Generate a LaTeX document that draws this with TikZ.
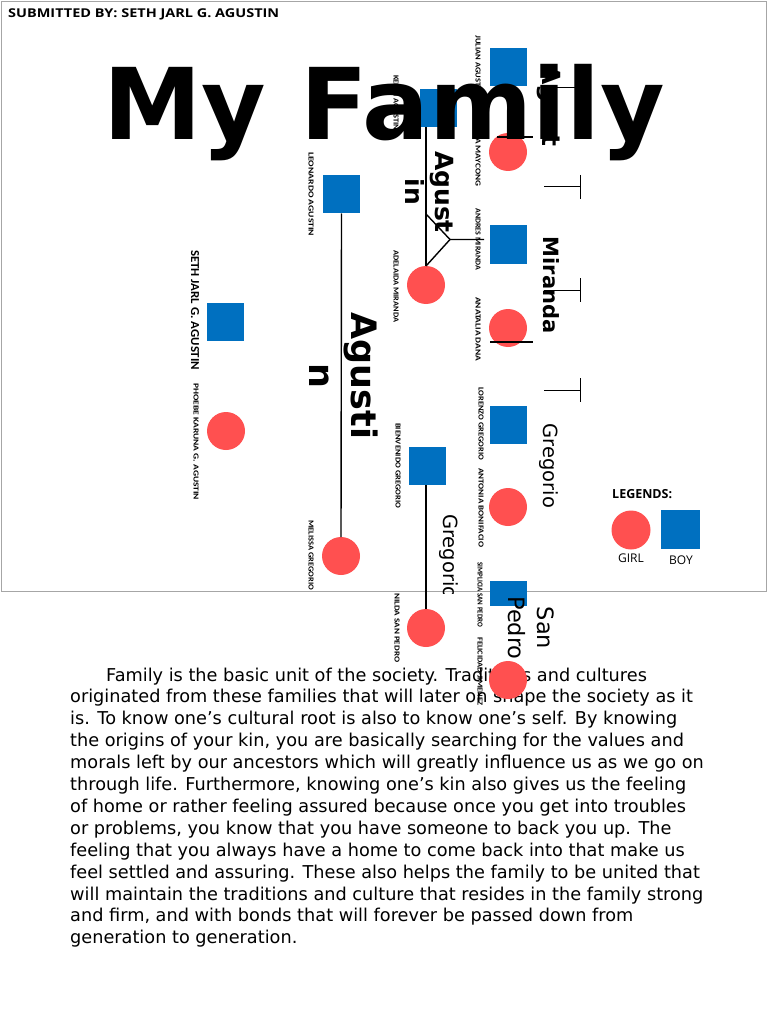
\documentclass[tikz,border=0pt]{standalone}
\usepackage{graphicx}
\usepackage{fontspec}
\setmainfont{DejaVu Sans}
\newfontfamily\calfont{Carlito}
\newfontfamily\osfont{Open Sans}
\newcommand\lbl[3][5]{\resizebox{#2pt}{#1pt}{\calfont\bfseries #3}}
\definecolor{boyblue}{HTML}{0070C0}
\definecolor{girlred}{HTML}{FF5050}
\definecolor{framegray}{HTML}{A6A6A6}
\begin{document}
\begin{tikzpicture}[x=1pt,y=-1pt,
  boy/.style={fill=boyblue, minimum width=37, minimum height=38, inner sep=0, outer sep=0},
  girl/.style={circle, fill=girlred, minimum size=38, inner sep=0, outer sep=0},
  conn/.style={draw=black, line width=1.4},
  tick/.style={draw=black, line width=1},
  body/.style={anchor=base west, inner sep=0, font=\fontsize{17.7}{21.9}\selectfont},
  sur/.style={rotate=-90, align=center, inner sep=0},
  lab/.style={rotate=-90, anchor=west, inner sep=0}]
\useasboundingbox (0,0) rectangle (768,1024);
\fill[white] (0,0) rectangle (768,1024);
\draw[framegray, line width=0.8] (1.5,1.5) rectangle (766.5,591);
\node[anchor=base west, inner sep=0] (sub) at (8,18) {\resizebox{271pt}{8.8pt}{\osfont\bfseries SUBMITTED BY: SETH JARL G. AGUSTIN}};
% body text
\node[body] (b1) at (106,681) {Family is the basic unit of the society. Traditions and cultures};
\node[body] (b2) at (70,702.9) {originated from these families that will later on shape the society as it};
\node[body] (b3) at (70,724.8) {is. To know one’s cultural root is also to know one’s self. By knowing};
\node[body] (b4) at (70,746.7) {the origins of your kin, you are basically searching for the values and};
\node[body] (b5) at (70,768.6) {morals left by our ancestors which will greatly influence us as we go on};
\node[body] (b6) at (70,790.5) {through life. Furthermore, knowing one’s kin also gives us the feeling};
\node[body] (b7) at (70,812.4) {of home or rather feeling assured because once you get into troubles};
\node[body] (b8) at (70,834.3) {or problems, you know that you have someone to back you up. The};
\node[body] (b9) at (70,856.2) {feeling that you always have a home to come back into that make us};
\node[body] (b10) at (70,878.1) {feel settled and assuring. These also helps the family to be united that};
\node[body] (b11) at (70,900.0) {will maintain the traditions and culture that resides in the family strong};
\node[body] (b12) at (70,921.9) {and firm, and with bonds that will forever be passed down from};
\node[body] (b13) at (70,943.8) {generation to generation.};
% squares (boys)
\node[boy] (julian) at (508.5,67.5) {};
\node[boy] (kendi) at (438.5,108.5) {};
\node[boy] (leo) at (341.5,194.5) {};
\node[boy] (seth) at (225.5,322) {};
\node[boy] (andres) at (508.5,244.5) {};
\node[boy] (lorenzo) at (508.5,424.5) {};
\node[boy] (bien) at (427.5,465.5) {};
\node[boy, minimum height=25] (simp) at (508.5,593.5) {};
% circles (girls)
\node[girl] (maycong) at (508,152) {};
\node[girl] (adel) at (426,285) {};
\node[girl] (anatalia) at (508,328) {};
\node[girl] (phoebe) at (226,431) {};
\node[girl] (antonia) at (508,507) {};
\node[girl] (melissa) at (341,556) {};
\node[girl] (nilda) at (426,628) {};
\node[girl] (felicidad) at (508,680) {};
% connectors
\draw[conn] (leo.south) -- (melissa.north);
\draw[conn] (nilda.north) -- (nilda.north |- bien.south);
\draw[conn] (adel.north) -- (adel.north |- kendi.south);
\coordinate (fork) at (450,239.5);
\coordinate (forkin) at (484,239.5);
\coordinate (upper) at (426,214);
\draw[conn] (forkin) -- (fork) -- (upper);
\draw[conn] (fork) -- (adel.north);
\coordinate (mA) at (497,137);
\coordinate (mB) at (533,137);
\draw[conn] (mA) -- (mB);
\coordinate (aA) at (490,342);
\coordinate (aB) at (533,342);
\draw[conn] (aA) -- (aB);
% side ticks
\foreach \yy in {88,187,290,390} {
  \draw[tick] (544,\yy) -- (580,\yy);
  \draw[tick] (580,\yy-12) -- (580,\yy+12);
}
% title
\node[anchor=base, inner sep=0, font=\bfseries\fontsize{99}{110}\selectfont] (title) at (384,140) {My Family};
% surnames
\node[sur, font=\bfseries\fontsize{25}{30}\selectfont] (s1) at (549,106) {Agust};
\node[sur, font=\bfseries\fontsize{25}{30}\selectfont] (s2) at (430,192) {Agust\\in};
\node[sur, font=\bfseries\fontsize{35}{42}\selectfont] (s3) at (344,376) {Agusti\\n};
\node[sur, font=\bfseries\fontsize{21}{25}\selectfont] (s4) at (551,285) {Miranda};
\node[sur, font=\fontsize{19.5}{24}\selectfont] (s5) at (549,466) {Gregorio};
\begin{scope}
\clip (0,0) rectangle (768,593);
\node[sur, anchor=west, font=\fontsize{19.5}{24}\selectfont] (s6) at (449,514) {Gregorio};
\end{scope}
\node[sur, font=\fontsize{22.5}{29}\selectfont] (s7) at (531,628) {San\\Pedro};
% name labels
\node[lab] (l1) at (478,35) {\lbl{59}{JULIAN AGUSTIN}};
\node[lab] (l2) at (478,138) {\lbl{48}{A MAYCONG}};
\node[lab] (l3) at (396,75) {\lbl{55}{KENDI AGUSTIN}};
\node[lab] (l4) at (311,152) {\lbl{84}{LEONARDO AGUSTIN}};
\node[lab] (l5) at (478,208) {\lbl{62}{ANDRES MIRANDA}};
\node[lab] (l6) at (396,250) {\lbl{72}{ADELAIDA MIRANDA}};
\node[lab] (l7) at (478,297) {\lbl{64}{ANATALIA DANA}};
\node[lab] (l8) at (195,250) {\lbl[8]{120}{SETH JARL G. AGUSTIN}};
\node[lab] (l9) at (196,383) {\lbl{117}{PHOEBE KARUNA G. AGUSTIN}};
\node[lab] (l10) at (481,387) {\lbl{73}{LORENZO GREGORIO}};
\node[lab] (l11) at (481,468) {\lbl{79}{ANTONIA BONIFACIO}};
\node[lab] (l12) at (480,562) {\lbl{65}{SIMPLICIA SAN PEDRO}};
\node[lab] (l13) at (480,637) {\lbl{68}{FELICIDAD JIMENEZ}};
\node[lab] (l14) at (398,423) {\lbl{85}{BIENVENIDO GREGORIO}};
\node[lab] (l15) at (311,520) {\lbl{70}{MELISSA GREGORIO}};
\node[lab] (l16) at (397,593) {\lbl{69}{NILDA SAN PEDRO}};
% legend
\node[anchor=west, inner sep=0, font=\osfont\bfseries\fontsize{12.5}{14}\selectfont] (leg) at (612,494) {LEGENDS:};
\node[girl, minimum size=39] (lgirl) at (631,530) {};
\node[boy, minimum width=39, minimum height=39] (lboy) at (680.5,529.5) {};
\node[inner sep=0, font=\osfont\fontsize{12}{14}\selectfont] (tgirl) at (631,558) {GIRL};
\node[inner sep=0, font=\osfont\fontsize{12}{14}\selectfont] (tboy) at (681,560) {BOY};
\end{tikzpicture}
\end{document}
